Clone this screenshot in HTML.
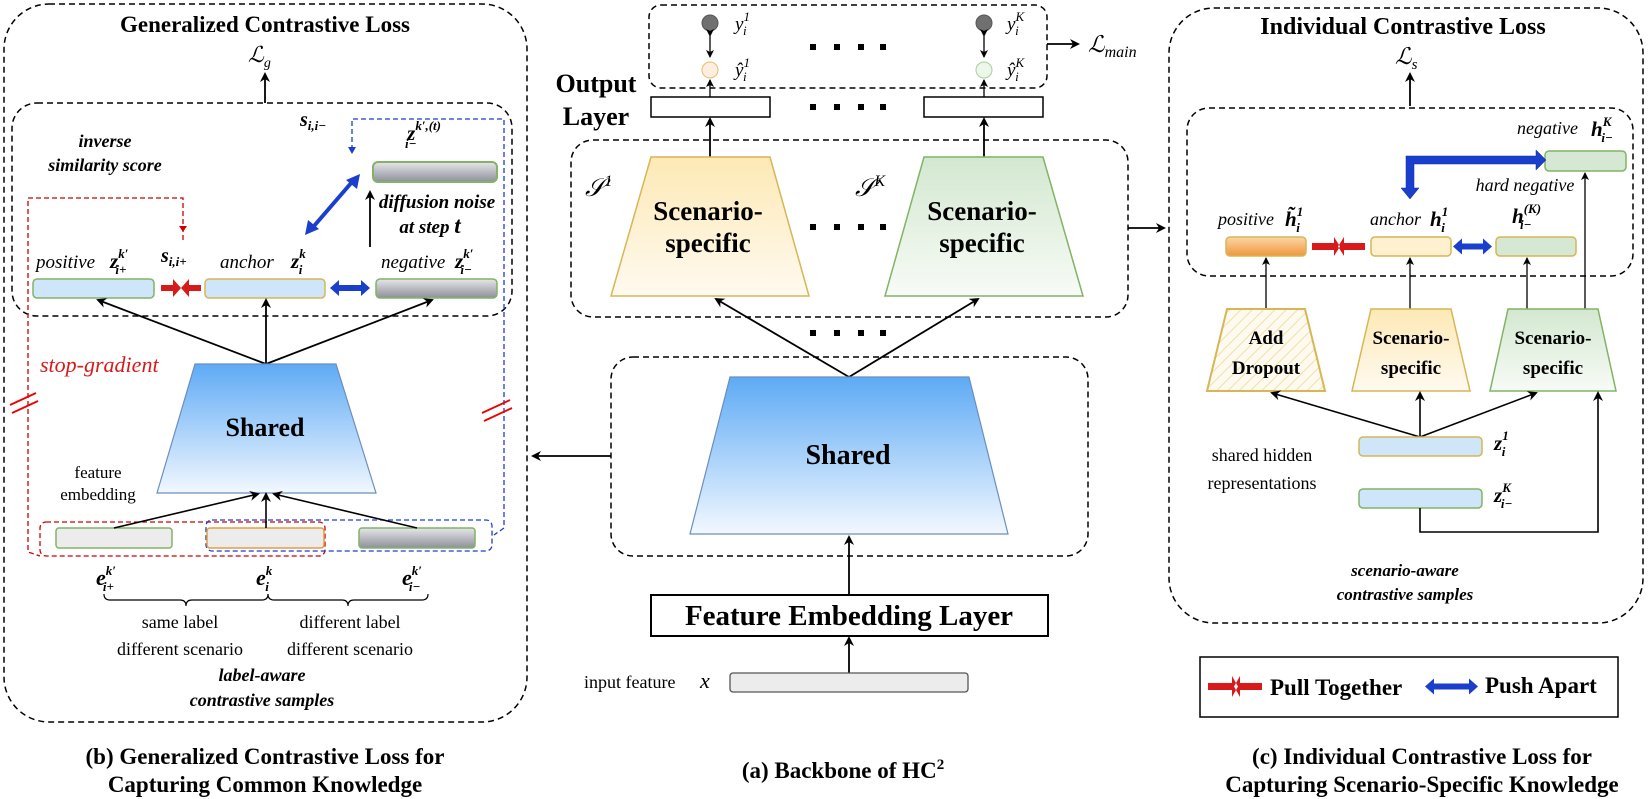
<!DOCTYPE html>
<html><head><meta charset="utf-8"><style>
html,body{margin:0;padding:0;background:#fff;}
svg{display:block;font-family:"Liberation Serif",serif;}
.b{font-weight:bold}
.i{font-style:italic}
</style></head><body>
<svg width="1651" height="799" viewBox="0 0 1651 799" xmlns="http://www.w3.org/2000/svg">
<defs>
<marker id="ah" markerWidth="10" markerHeight="10" refX="8" refY="5" orient="auto" markerUnits="userSpaceOnUse"><path d="M0,0 L10,5 L0,10 L3,5 z" fill="#000"/></marker>
<marker id="ahs" markerWidth="8" markerHeight="8" refX="7" refY="4" orient="auto" markerUnits="userSpaceOnUse"><path d="M0,0 L8,4 L0,8 L2,4 z" fill="#000"/></marker>
<marker id="ahb" markerWidth="8" markerHeight="8" refX="7" refY="4" orient="auto" markerUnits="userSpaceOnUse"><path d="M0,0 L8,4 L0,8 z" fill="#1a3fcc"/></marker>
<linearGradient id="gBlue" x1="0" y1="0" x2="0" y2="1"><stop offset="0" stop-color="#5eaaf5"/><stop offset="1" stop-color="#f2f8ff"/></linearGradient>
<linearGradient id="gYel" x1="0" y1="0" x2="0" y2="1"><stop offset="0" stop-color="#fde9b5"/><stop offset="1" stop-color="#fffaf0"/></linearGradient>
<linearGradient id="gGrn" x1="0" y1="0" x2="0" y2="1"><stop offset="0" stop-color="#d3e8d0"/><stop offset="1" stop-color="#f7fbf6"/></linearGradient>
<linearGradient id="gGray" x1="0" y1="0" x2="0" y2="1"><stop offset="0" stop-color="#e6e6ea"/><stop offset="1" stop-color="#8e9099"/></linearGradient>
<linearGradient id="gOr" x1="0" y1="0" x2="0" y2="1"><stop offset="0" stop-color="#fbd7a8"/><stop offset="1" stop-color="#f2963a"/></linearGradient>
<pattern id="hatch" width="8" height="8" patternUnits="userSpaceOnUse" patternTransform="rotate(45)"><rect width="8" height="8" fill="#fffaf0"/><line x1="0" y1="0" x2="0" y2="8" stroke="#f3dfa6" stroke-width="2"/></pattern>
</defs>

<!-- ============ LEFT PANEL ============ -->
<rect x="4" y="4" width="523" height="718" rx="45" fill="none" stroke="#000" stroke-width="1.5" stroke-dasharray="6,4"/>
<text x="265" y="32" text-anchor="middle" class="b" font-size="23">Generalized Contrastive Loss</text>
<text x="248" y="62" class="i" font-size="22">ℒ<tspan font-size="14" dy="5">g</tspan></text>
<line x1="265" y1="103" x2="265" y2="74" stroke="#000" stroke-width="1.8" marker-end="url(#ah)"/>
<rect x="12" y="103" width="500" height="213" rx="25" fill="none" stroke="#000" stroke-width="1.5" stroke-dasharray="6,4"/>

<text x="105" y="147" text-anchor="middle" class="b i" font-size="18">inverse</text>
<text x="105" y="171" text-anchor="middle" class="b i" font-size="18">similarity score</text>
<text x="300" y="126" class="b i" font-size="20">s<tspan font-size="13" dy="4">i,i−</tspan></text>
<text x="405" y="140" class="b i" font-size="21">z<tspan font-size="13" dy="-10">k′,(t)</tspan><tspan font-size="13" dx="-36" dy="18">i−</tspan></text>

<polyline points="352,150 352,119 504,119 504,528 494,535" fill="none" stroke="#1a3fcc" stroke-width="1.3" stroke-dasharray="5,3"/>
<polyline points="183,240 183,198 28,198 28,552 40,556" fill="none" stroke="#c00" stroke-width="1.3" stroke-dasharray="5,3"/>
<path d="M183,232 l-4,-6 h8 z" fill="#c00"/>
<path d="M352,154 l-4,-7 h8 z" fill="#1a3fcc"/>
<line x1="10" y1="405" x2="36" y2="393" stroke="#e00" stroke-width="1.8"/><line x1="12" y1="413" x2="38" y2="401" stroke="#e00" stroke-width="1.8"/>
<line x1="482" y1="413" x2="510" y2="400" stroke="#e00" stroke-width="1.8"/><line x1="484" y1="421" x2="512" y2="408" stroke="#e00" stroke-width="1.8"/>

<rect x="373" y="162" width="124" height="20" rx="5" fill="url(#gGray)" stroke="#82b366" stroke-width="2"/>
<text x="437" y="208" text-anchor="middle" class="b i" font-size="19">diffusion noise</text>
<text x="430" y="233" text-anchor="middle" class="b i" font-size="19">at step <tspan font-size="23">t</tspan></text>
<line x1="370" y1="247" x2="370" y2="192" stroke="#000" stroke-width="1.8" marker-end="url(#ah)"/>
<line x1="314" y1="226" x2="352" y2="182" stroke="#1a3fcc" stroke-width="4"/>
<path d="M360,174 l-3,15 l-11,-9 z M305,235 l3,-15 l11,9 z" fill="#1a3fcc"/>

<text x="36" y="268" class="i" font-size="19">positive</text>
<text x="110" y="268" class="b i" font-size="21">z<tspan font-size="13" dy="-10">k′</tspan><tspan font-size="13" dx="-13" dy="16">i+</tspan></text>
<text x="161" y="262" class="b i" font-size="20">s<tspan font-size="13" dy="4">i,i+</tspan></text>
<text x="220" y="268" class="i" font-size="19">anchor</text>
<text x="291" y="268" class="b i" font-size="21">z<tspan font-size="13" dy="-10">k</tspan><tspan font-size="13" dx="-7" dy="16">i</tspan></text>
<text x="381" y="268" class="i" font-size="19">negative</text>
<text x="455" y="268" class="b i" font-size="21">z<tspan font-size="13" dy="-10">k′</tspan><tspan font-size="13" dx="-13" dy="16">i−</tspan></text>

<rect x="33" y="279" width="121" height="19" rx="4" fill="#cfe5fa" stroke="#82b366" stroke-width="1.5"/>
<rect x="205" y="279" width="120" height="19" rx="4" fill="#cfe5fa" stroke="#d6b656" stroke-width="1.5"/>
<rect x="376" y="279" width="121" height="19" rx="4" fill="url(#gGray)" stroke="#82b366" stroke-width="1.5"/>
<path d="M161,285 h12 v-6 l8,9 l-8,9 v-6 h-12 z M201,285 h-12 v-6 l-8,9 l8,9 v-6 h12 z" fill="#d91a1a"/>
<path d="M330,288 l9,-8 v5 h22 v-5 l9,8 l-9,8 v-5 h-22 v5 z" fill="#1a3fcc"/>

<line x1="266" y1="364" x2="98" y2="300" stroke="#000" stroke-width="1.8" marker-end="url(#ah)"/>
<line x1="266" y1="364" x2="266" y2="300" stroke="#000" stroke-width="1.8" marker-end="url(#ah)"/>
<line x1="266" y1="364" x2="432" y2="300" stroke="#000" stroke-width="1.8" marker-end="url(#ah)"/>

<text x="40" y="372" class="i" font-size="22" fill="#d91a1a">stop-gradient</text>
<polygon points="195,364 336,364 376,493 157,493" fill="url(#gBlue)" stroke="#6c8ebf" stroke-width="1.2"/>
<text x="265" y="436" text-anchor="middle" class="b" font-size="26">Shared</text>
<text x="98" y="478" text-anchor="middle" font-size="17">feature</text>
<text x="98" y="500" text-anchor="middle" font-size="17">embedding</text>

<rect x="40" y="522" width="285" height="34" rx="6" fill="none" stroke="#c00" stroke-width="1.3" stroke-dasharray="5,3"/>
<rect x="206" y="520" width="286" height="31" rx="6" fill="none" stroke="#1a3fcc" stroke-width="1.3" stroke-dasharray="5,3"/>
<rect x="56" y="528" width="116" height="20" rx="3" fill="#ececec" stroke="#82b366" stroke-width="1.5"/>
<rect x="207" y="528" width="117" height="20" rx="3" fill="#ececec" stroke="#e0a040" stroke-width="1.5"/>
<rect x="359" y="528" width="116" height="20" rx="3" fill="url(#gGray)" stroke="#82b366" stroke-width="1.5"/>
<line x1="114" y1="528" x2="258" y2="494" stroke="#000" stroke-width="1.6" marker-end="url(#ah)"/>
<line x1="266" y1="528" x2="266" y2="494" stroke="#000" stroke-width="1.6" marker-end="url(#ah)"/>
<line x1="417" y1="528" x2="274" y2="494" stroke="#000" stroke-width="1.6" marker-end="url(#ah)"/>

<text x="96" y="585" class="b i" font-size="22">e<tspan font-size="13" dy="-10">k′</tspan><tspan font-size="13" dx="-13" dy="16">i+</tspan></text>
<text x="256" y="585" class="b i" font-size="22">e<tspan font-size="13" dy="-10">k</tspan><tspan font-size="13" dx="-7" dy="16">i</tspan></text>
<text x="402" y="585" class="b i" font-size="22">e<tspan font-size="13" dy="-10">k′</tspan><tspan font-size="13" dx="-13" dy="16">i−</tspan></text>
<path d="M104,594 q0,6 6,6 h70 q6,0 6,6 q0,-6 6,-6 h70 q6,0 6,-6" fill="none" stroke="#000" stroke-width="1.2"/>
<path d="M268,594 q0,6 6,6 h68 q6,0 6,6 q0,-6 6,-6 h68 q6,0 6,-6" fill="none" stroke="#000" stroke-width="1.2"/>
<text x="180" y="628" text-anchor="middle" font-size="18">same label</text>
<text x="350" y="628" text-anchor="middle" font-size="18">different label</text>
<text x="180" y="655" text-anchor="middle" font-size="18">different scenario</text>
<text x="350" y="655" text-anchor="middle" font-size="18">different scenario</text>
<text x="262" y="681" text-anchor="middle" class="b i" font-size="18">label-aware</text>
<text x="262" y="706" text-anchor="middle" class="b i" font-size="18">contrastive samples</text>
<text x="265" y="764" text-anchor="middle" class="b" font-size="23">(b) Generalized Contrastive Loss for</text>
<text x="265" y="792" text-anchor="middle" class="b" font-size="23">Capturing Common Knowledge</text>

<!-- ============ MIDDLE ============ -->
<rect x="649" y="5" width="398" height="83" rx="12" fill="none" stroke="#000" stroke-width="1.5" stroke-dasharray="6,4"/>
<circle cx="710" cy="23" r="8" fill="#707070" stroke="#555"/>
<circle cx="710" cy="70" r="8" fill="#fdeee0" stroke="#e0c070"/>
<circle cx="984" cy="23" r="8" fill="#707070" stroke="#555"/>
<circle cx="984" cy="70" r="8" fill="#edf6ea" stroke="#a8d09a"/>
<line x1="710" y1="36" x2="710" y2="57" stroke="#000" stroke-width="1.3" marker-end="url(#ahs)" marker-start="url(#ahs)"/>
<line x1="984" y1="36" x2="984" y2="57" stroke="#000" stroke-width="1.3" marker-end="url(#ahs)" marker-start="url(#ahs)"/>
<text x="735" y="30" class="i" font-size="19">y<tspan font-size="13" dy="-9">1</tspan><tspan font-size="13" dx="-7" dy="14">i</tspan></text>
<text x="735" y="76" class="i" font-size="19">ŷ<tspan font-size="13" dy="-9">1</tspan><tspan font-size="13" dx="-7" dy="14">i</tspan></text>
<text x="1007" y="30" class="i" font-size="19">y<tspan font-size="13" dy="-9">K</tspan><tspan font-size="13" dx="-9" dy="14">i</tspan></text>
<text x="1007" y="76" class="i" font-size="19">ŷ<tspan font-size="13" dy="-9">K</tspan><tspan font-size="13" dx="-9" dy="14">i</tspan></text>
<g fill="#000">
<rect x="810" y="44" width="6" height="6"/><rect x="834" y="44" width="6" height="6"/><rect x="858" y="44" width="6" height="6"/><rect x="880" y="44" width="6" height="6"/>
<rect x="810" y="104" width="6" height="6"/><rect x="834" y="104" width="6" height="6"/><rect x="858" y="104" width="6" height="6"/><rect x="880" y="104" width="6" height="6"/>
<rect x="810" y="224" width="6" height="6"/><rect x="834" y="224" width="6" height="6"/><rect x="858" y="224" width="6" height="6"/><rect x="880" y="224" width="6" height="6"/>
<rect x="810" y="330" width="6" height="6"/><rect x="834" y="330" width="6" height="6"/><rect x="858" y="330" width="6" height="6"/><rect x="880" y="330" width="6" height="6"/>
</g>
<line x1="1047" y1="44" x2="1078" y2="44" stroke="#000" stroke-width="1.8" marker-end="url(#ah)"/>
<text x="1088" y="52" class="i" font-size="23">ℒ<tspan font-size="16" dy="5">main</tspan></text>
<text x="596" y="92" text-anchor="middle" class="b" font-size="26">Output</text>
<text x="596" y="125" text-anchor="middle" class="b" font-size="26">Layer</text>
<rect x="651" y="97" width="119" height="20" fill="#fff" stroke="#000" stroke-width="1.5"/>
<rect x="924" y="97" width="119" height="20" fill="#fff" stroke="#000" stroke-width="1.5"/>
<line x1="710" y1="97" x2="710" y2="80" stroke="#000" stroke-width="1.3" marker-end="url(#ahs)"/>
<line x1="984" y1="97" x2="984" y2="80" stroke="#000" stroke-width="1.3" marker-end="url(#ahs)"/>
<line x1="710" y1="157" x2="710" y2="119" stroke="#000" stroke-width="1.8" marker-end="url(#ah)"/>
<line x1="984" y1="157" x2="984" y2="119" stroke="#000" stroke-width="1.8" marker-end="url(#ah)"/>

<rect x="571" y="140" width="557" height="177" rx="22" fill="none" stroke="#000" stroke-width="1.5" stroke-dasharray="6,4"/>
<polygon points="651,157 770,157 809,296 611,296" fill="url(#gYel)" stroke="#d6b656" stroke-width="1.5"/>
<polygon points="924,157 1043,157 1083,296 885,296" fill="url(#gGrn)" stroke="#82b366" stroke-width="1.5"/>
<text x="585" y="196" class="i" font-size="25">𝒮<tspan font-size="16" dy="-10">1</tspan></text>
<text x="855" y="196" class="i" font-size="25">𝒮<tspan font-size="16" dy="-10">K</tspan></text>
<text x="708" y="220" text-anchor="middle" class="b" font-size="27">Scenario-</text>
<text x="708" y="252" text-anchor="middle" class="b" font-size="27">specific</text>
<text x="982" y="220" text-anchor="middle" class="b" font-size="27">Scenario-</text>
<text x="982" y="252" text-anchor="middle" class="b" font-size="27">specific</text>
<line x1="849" y1="377" x2="716" y2="299" stroke="#000" stroke-width="1.8" marker-end="url(#ah)"/>
<line x1="849" y1="377" x2="978" y2="299" stroke="#000" stroke-width="1.8" marker-end="url(#ah)"/>
<line x1="1128" y1="228" x2="1164" y2="228" stroke="#000" stroke-width="1.8" marker-end="url(#ah)"/>

<rect x="611" y="357" width="477" height="199" rx="22" fill="none" stroke="#000" stroke-width="1.5" stroke-dasharray="6,4"/>
<polygon points="730,377 969,377 1008,534 690,534" fill="url(#gBlue)" stroke="#6c8ebf" stroke-width="1.2"/>
<text x="848" y="464" text-anchor="middle" class="b" font-size="28">Shared</text>
<line x1="611" y1="456" x2="533" y2="456" stroke="#000" stroke-width="1.8" marker-end="url(#ah)"/>
<line x1="849" y1="595" x2="849" y2="537" stroke="#000" stroke-width="1.8" marker-end="url(#ah)"/>
<rect x="651" y="595" width="397" height="41" fill="#fff" stroke="#000" stroke-width="2"/>
<text x="849" y="625" text-anchor="middle" class="b" font-size="29">Feature Embedding Layer</text>
<line x1="849" y1="673" x2="849" y2="638" stroke="#000" stroke-width="1.8" marker-end="url(#ah)"/>
<rect x="730" y="673" width="238" height="19" rx="3" fill="#ececec" stroke="#555" stroke-width="1.3"/>
<text x="584" y="688" font-size="18">input feature</text>
<text x="700" y="688" class="i" font-size="22">x</text>
<text x="843" y="778" text-anchor="middle" class="b" font-size="23">(a) Backbone of HC<tspan font-size="15" dy="-9">2</tspan></text>

<!-- ============ RIGHT ============ -->
<rect x="1169" y="8" width="474" height="615" rx="45" fill="none" stroke="#000" stroke-width="1.5" stroke-dasharray="6,4"/>
<text x="1403" y="34" text-anchor="middle" class="b" font-size="24">Individual Contrastive Loss</text>
<text x="1395" y="64" class="i" font-size="23">ℒ<tspan font-size="15" dy="5">s</tspan></text>
<line x1="1410" y1="106" x2="1410" y2="74" stroke="#000" stroke-width="1.8" marker-end="url(#ah)"/>
<rect x="1187" y="108" width="446" height="168" rx="22" fill="none" stroke="#000" stroke-width="1.5" stroke-dasharray="6,4"/>

<text x="1517" y="134" class="i" font-size="18">negative</text>
<text x="1591" y="136" class="b i" font-size="21">h<tspan font-size="13" dy="-10">K</tspan><tspan font-size="13" dx="-10" dy="16">i−</tspan></text>
<rect x="1545" y="151" width="81" height="20" rx="4" fill="#d5e8d4" stroke="#82b366" stroke-width="1.5"/>
<path d="M1406,188 v-32 h130 v-6 l10,10 l-10,10 v-6 h-122 v24 h5 l-9,11 l-9,-11 z" fill="#1a3fcc" stroke="#0a2aa0" stroke-width="0.5"/>
<text x="1525" y="191" text-anchor="middle" class="i" font-size="18">hard negative</text>
<text x="1512" y="223" class="b i" font-size="21">h<tspan font-size="13" dy="-10">(K)</tspan><tspan font-size="13" dx="-21" dy="16">i−</tspan></text>
<text x="1218" y="225" class="i" font-size="18">positive</text>
<text x="1285" y="226" class="b i" font-size="21">h̃<tspan font-size="13" dy="-10">1</tspan><tspan font-size="13" dx="-7" dy="16">i</tspan></text>
<text x="1370" y="225" class="i" font-size="18">anchor</text>
<text x="1430" y="226" class="b i" font-size="21">h<tspan font-size="13" dy="-10">1</tspan><tspan font-size="13" dx="-7" dy="16">i</tspan></text>

<rect x="1226" y="237" width="80" height="19" rx="4" fill="url(#gOr)" stroke="#d6b656" stroke-width="1.5"/>
<path d="M1312,243 h22 v-6 l6,9.5 l-6,9.5 v-6 h-22 z M1365,243 h-21 v-6 l-6,9.5 l6,9.5 v-6 h21 z" fill="#d91a1a"/>
<rect x="1371" y="237" width="80" height="19" rx="4" fill="#fff1cf" stroke="#d6b656" stroke-width="1.5"/>
<path d="M1453,246.5 l9,-8 v5 h21 v-5 l9,8 l-9,8 v-5 h-21 v5 z" fill="#1a3fcc"/>
<rect x="1496" y="237" width="80" height="19" rx="4" fill="#d5e8d4" stroke="#d6b656" stroke-width="1.5"/>

<line x1="1266" y1="309" x2="1266" y2="258" stroke="#000" stroke-width="1.3" marker-end="url(#ahs)"/>
<line x1="1410" y1="309" x2="1410" y2="258" stroke="#000" stroke-width="1.3" marker-end="url(#ahs)"/>
<line x1="1527" y1="309" x2="1527" y2="258" stroke="#000" stroke-width="1.3" marker-end="url(#ahs)"/>
<line x1="1585" y1="309" x2="1585" y2="173" stroke="#000" stroke-width="1.3" marker-end="url(#ahs)"/>

<polygon points="1227,309 1305,309 1325,391 1207,391" fill="url(#hatch)" stroke="#d6b656" stroke-width="2"/>
<polygon points="1371,309 1451,309 1470,391 1352,391" fill="url(#gYel)" stroke="#d6b656" stroke-width="1.5"/>
<polygon points="1508,309 1598,309 1616,391 1490,391" fill="url(#gGrn)" stroke="#82b366" stroke-width="1.5"/>
<text x="1266" y="344" text-anchor="middle" class="b" font-size="19">Add</text>
<text x="1266" y="374" text-anchor="middle" class="b" font-size="19">Dropout</text>
<text x="1411" y="344" text-anchor="middle" class="b" font-size="19">Scenario-</text>
<text x="1411" y="374" text-anchor="middle" class="b" font-size="19">specific</text>
<text x="1553" y="344" text-anchor="middle" class="b" font-size="19">Scenario-</text>
<text x="1553" y="374" text-anchor="middle" class="b" font-size="19">specific</text>

<line x1="1420" y1="437" x2="1272" y2="393" stroke="#000" stroke-width="1.6" marker-end="url(#ah)"/>
<line x1="1420" y1="437" x2="1420" y2="393" stroke="#000" stroke-width="1.6" marker-end="url(#ah)"/>
<line x1="1420" y1="437" x2="1536" y2="393" stroke="#000" stroke-width="1.6" marker-end="url(#ah)"/>
<rect x="1359" y="437" width="123" height="19" rx="4" fill="#cfe5fa" stroke="#d6b656" stroke-width="1.5"/>
<rect x="1359" y="489" width="123" height="19" rx="4" fill="#cfe5fa" stroke="#82b366" stroke-width="1.5"/>
<polyline points="1420,508 1420,532 1598,532 1598,393" fill="none" stroke="#000" stroke-width="1.6" marker-end="url(#ah)"/>
<text x="1494" y="450" class="b i" font-size="21">z<tspan font-size="13" dy="-10">1</tspan><tspan font-size="13" dx="-7" dy="16">i</tspan></text>
<text x="1494" y="502" class="b i" font-size="21">z<tspan font-size="13" dy="-10">K</tspan><tspan font-size="13" dx="-10" dy="16">i−</tspan></text>
<text x="1262" y="461" text-anchor="middle" font-size="18">shared hidden</text>
<text x="1262" y="489" text-anchor="middle" font-size="18">representations</text>
<text x="1405" y="576" text-anchor="middle" class="b i" font-size="17">scenario-aware</text>
<text x="1405" y="600" text-anchor="middle" class="b i" font-size="17">contrastive samples</text>

<rect x="1200" y="657" width="418" height="60" fill="#fff" stroke="#000" stroke-width="1.5"/>
<path d="M1208,683 h24 v-7 l6,10.5 l-6,10.5 v-7 h-24 z M1262,683 h-22 v-7 l-6,10.5 l6,10.5 v-7 h22 z" fill="#d91a1a"/>
<text x="1270" y="695" class="b" font-size="23">Pull Together</text>
<path d="M1425,686.5 l9,-8 v5 h35 v-5 l9,8 l-9,8 v-5 h-35 v5 z" fill="#1a3fcc"/>
<text x="1485" y="693" class="b" font-size="23">Push Apart</text>
<text x="1422" y="764" text-anchor="middle" class="b" font-size="23">(c) Individual Contrastive Loss for</text>
<text x="1422" y="792" text-anchor="middle" class="b" font-size="23">Capturing Scenario-Specific Knowledge</text>
</svg>
</body></html>
